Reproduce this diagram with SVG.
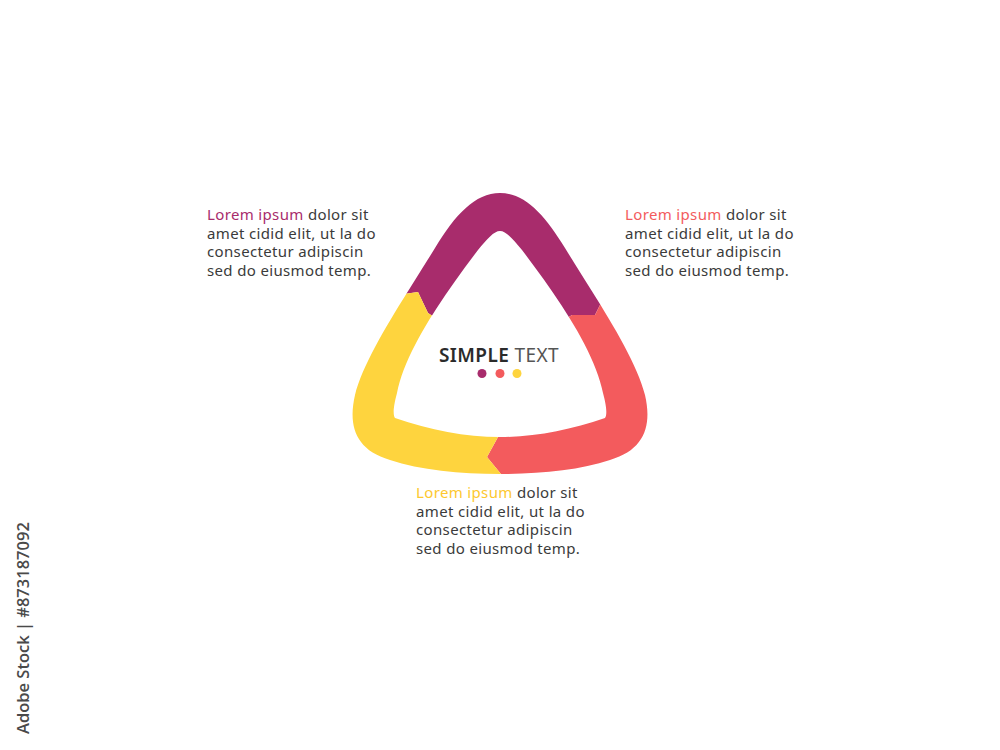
<svg xmlns="http://www.w3.org/2000/svg" width="1000" height="750" viewBox="0 0 1000 750">
<style>
.body{font-family:"Noto Sans","Liberation Sans",sans-serif;font-size:15px;letter-spacing:0.35px;fill:#3b3b3b}
.purple{fill:#a82c6c}.red{fill:#f35b5d}.yellow{fill:#fed43e}
.title{font-family:"Noto Sans","Liberation Sans",sans-serif;font-size:19px;letter-spacing:0.4px}
</style>
<defs>
<path id="ring" fill-rule="evenodd" d="M500,193 C525,193 545,215 565,248 C595,297 635,355 645,395 C652,425 645,450 610,460 C580,470 540,474 500,474 C460,474 420,470 390,460 C355,450 348,425 355,395 C365,355 405,297 435,248 C455,215 475,193 500,193 Z M500,231 C494,231 487,239 478,250 C440,300 405,352 397,393 C393,408 393,415 395,418 C430,430 465,437 500,437 C535,437 570,430 605,418 C607,415 607,408 603,393 C595,352 560,300 522,250 C513,239 506,231 500,231 Z"/>
<clipPath id="cPurple"><polygon points="500,360 428,313 418,292 397,295 300,300 300,100 700,100 700,290 605,295 595,315 572,315"/></clipPath>
<clipPath id="cRed"><polygon points="500,360 572,315 595,315 605,295 700,290 700,560 501,560 501,474 487,457 498,437"/></clipPath>
<clipPath id="cYellow"><polygon points="500,360 498,437 487,457 501,474 501,560 300,560 300,300 397,295 418,292 428,313"/></clipPath>
</defs>
<g id="segment-purple"><use href="#ring" class="purple" clip-path="url(#cPurple)"/></g>
<g id="segment-red"><use href="#ring" class="red" clip-path="url(#cRed)"/></g>
<g id="segment-yellow"><use href="#ring" class="yellow" clip-path="url(#cYellow)"/></g>
<g id="connectors"></g>
<g id="center">
<text class="title" x="499" y="362" text-anchor="middle"><tspan font-weight="600" fill="#2b2b2b">SIMPLE</tspan><tspan fill="#555"> TEXT</tspan></text>
<circle cx="482" cy="373.5" r="4.5" class="purple"/>
<circle cx="500" cy="373.5" r="4.5" class="red"/>
<circle cx="517" cy="373.5" r="4.5" class="yellow"/>
</g>
<g id="text-left">
<text class="body" x="207" y="220"><tspan fill="#a82c6c">Lorem ipsum</tspan> dolor sit</text>
<text class="body" x="207" y="238.5">amet cidid elit, ut la do</text>
<text class="body" x="207" y="257">consectetur adipiscin</text>
<text class="body" x="207" y="275.5">sed do eiusmod temp.</text>
</g>
<g id="text-right">
<text class="body" x="625" y="220"><tspan fill="#f35b5d">Lorem ipsum</tspan> dolor sit</text>
<text class="body" x="625" y="238.5">amet cidid elit, ut la do</text>
<text class="body" x="625" y="257">consectetur adipiscin</text>
<text class="body" x="625" y="275.5">sed do eiusmod temp.</text>
</g>
<g id="text-bottom">
<text class="body" x="416" y="498"><tspan fill="#fdc82f">Lorem ipsum</tspan> dolor sit</text>
<text class="body" x="416" y="516.5">amet cidid elit, ut la do</text>
<text class="body" x="416" y="535">consectetur adipiscin</text>
<text class="body" x="416" y="553.5">sed do eiusmod temp.</text>
</g>
<g id="watermark">
<text transform="translate(29,734) rotate(-90)" font-family="'Open Sans','Noto Sans',sans-serif" font-size="16.5" font-weight="600" fill="#4a4a4a">Adobe Stock | #873187092</text>
</g>
</svg>
